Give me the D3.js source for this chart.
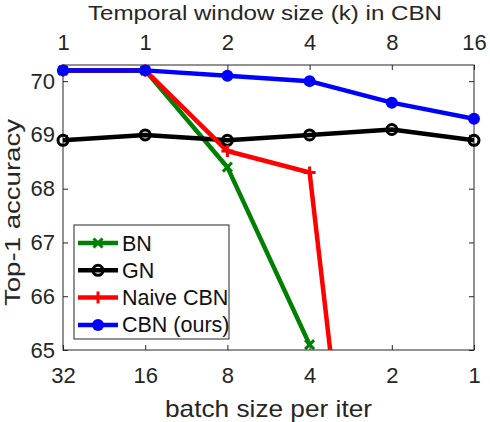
<!DOCTYPE html>
<html>
<head>
<meta charset="utf-8">
<script src="https://cdn.jsdelivr.net/npm/d3@7"></script>
<style>
  body { margin: 0; background: #fff; }
  svg { font-family: "Liberation Sans", Arial, Helvetica, sans-serif; }
</style>
</head>
<body>
<svg class="chart"></svg>
<script>
// data
const batchLabels = ["32", "16", "8", "4", "2", "1"];
const windowLabels = ["1", "1", "2", "4", "8", "16"];
const yTicks = [65, 66, 67, 68, 69, 70];

const bnValues = [70.2, 70.2, 68.4, 65.1];
const gnValues = [68.9, 69.0, 68.9, 69.0, 69.1, 68.9];
const naiveValues = [70.2, 70.2, 68.7, 68.3, 55.1];   // last point falls below the axis
const cbnValues = [70.2, 70.2, 70.1, 70.0, 69.6, 69.3];

const seriesNames = ["BN", "GN", "Naive CBN", "CBN (ours)"];
const seriesColors = ["#008000", "#000000", "#ff0000", "#0000ff"];
const seriesMarkers = ["x", "o", "+", "dot"];

const width = 490, height = 422;
const margin = {top: 65, right: 16, bottom: 72, left: 63};
const w = width - margin.left - margin.right;
const h = height - margin.top - margin.bottom;

const svg = d3.select(".chart")
  .attr("width", width)
  .attr("height", height);

const chart = svg.append("g")
  .attr("transform", "translate(" + margin.left + "," + margin.top + ")");

const x = d3.scaleLinear().domain([0, 5]).range([0, w]);
const y = d3.scaleLinear().domain([65, 70.3]).range([h, 0]);

// clip so the naive CBN drop is cut at the box
chart.append("clipPath").attr("id", "plotclip")
  .append("rect").attr("width", w).attr("height", h);

// axes, MATLAB style: ticks inside, on all four sides
const tickLen = 5;
const tickFont = 22;
const titleFont = 21;

const xBottom = chart.append("g").attr("transform", "translate(0," + h + ")")
  .call(d3.axisBottom(x).tickValues(d3.range(6)).tickSizeInner(-tickLen).tickSizeOuter(0)
    .tickPadding(17).tickFormat(i => batchLabels[i]));
const xTop = chart.append("g")
  .call(d3.axisTop(x).tickValues(d3.range(6)).tickSizeInner(-tickLen).tickSizeOuter(0)
    .tickPadding(15).tickFormat(i => windowLabels[i]));
const yLeft = chart.append("g")
  .call(d3.axisLeft(y).tickValues(yTicks).tickSizeInner(-tickLen).tickSizeOuter(0)
    .tickPadding(8).tickFormat(d3.format("d")));
const yRight = chart.append("g").attr("transform", "translate(" + w + ",0)")
  .call(d3.axisRight(y).tickValues(yTicks).tickSizeInner(-tickLen).tickSizeOuter(0)
    .tickFormat(""));

[xBottom, xTop, yLeft, yRight].forEach(g => {
  g.select(".domain").remove();
  g.selectAll("line").attr("stroke", "#262626").attr("stroke-width", 1);
  g.selectAll("text").attr("fill", "#262626").style("font-size", tickFont + "px")
    .style("font-family", "'Liberation Sans', Arial, sans-serif");
});

// the box
chart.append("rect")
  .attr("width", w).attr("height", h)
  .attr("fill", "none").attr("stroke", "#262626").attr("stroke-width", 1);

// axis titles (stretched a little to the widths seen in the reference)
svg.append("text")
  .attr("x", 268.5).attr("y", 416.5)
  .attr("text-anchor", "middle").attr("fill", "#262626")
  .attr("textLength", 207).attr("lengthAdjust", "spacingAndGlyphs")
  .style("font-size", "24px")
  .text("batch size per iter");
svg.append("text")
  .attr("x", 265).attr("y", 19.5)
  .attr("text-anchor", "middle").attr("fill", "#262626")
  .attr("textLength", 354).attr("lengthAdjust", "spacingAndGlyphs")
  .style("font-size", titleFont + "px")
  .text("Temporal window size (k) in CBN");
svg.append("text")
  .attr("transform", "translate(20,212.5) rotate(-90)")
  .attr("text-anchor", "middle").attr("fill", "#262626")
  .attr("textLength", 187).attr("lengthAdjust", "spacingAndGlyphs")
  .style("font-size", "22px")
  .text("Top-1 accuracy");

// marker drawing
function drawMarker(g, kind, color) {
  if (kind === "x") {
    g.append("path").attr("d", "M-4.5,-4.5L4.5,4.5M-4.5,4.5L4.5,-4.5")
      .attr("stroke", color).attr("stroke-width", 3).attr("fill", "none");
  } else if (kind === "o") {
    g.append("circle").attr("r", 5)
      .attr("stroke", color).attr("stroke-width", 3).attr("fill", "none");
  } else if (kind === "+") {
    g.append("path").attr("d", "M-6,0L6,0M0,-6L0,6")
      .attr("stroke", color).attr("stroke-width", 3).attr("fill", "none");
  } else {
    g.append("circle").attr("r", 6).attr("fill", color);
  }
}

const allSeries = [bnValues, gnValues, naiveValues, cbnValues];
const line = d3.line().x((d, i) => x(i)).y(d => y(d));

const plot = chart.append("g").attr("clip-path", "url(#plotclip)");
const markLayer = chart.append("g");

allSeries.forEach((vals, s) => {
  plot.append("path")
    .datum(vals)
    .attr("d", line)
    .attr("fill", "none")
    .attr("stroke", seriesColors[s])
    .attr("stroke-width", 4.5)
    .attr("stroke-linejoin", "round");
  vals.forEach((v, i) => {
    if (v < y.domain()[0]) return;
    const g = markLayer.append("g")
      .attr("transform", "translate(" + x(i) + "," + y(v) + ")");
    drawMarker(g, seriesMarkers[s], seriesColors[s]);
  });
});

// legend
const legend = svg.append("g").attr("transform", "translate(74,225)");
legend.append("rect")
  .attr("width", 155).attr("height", 114)
  .attr("fill", "#fff").attr("stroke", "#262626").attr("stroke-width", 1);
seriesNames.forEach((name, s) => {
  const ly = 18 + s * 27.3;
  legend.append("line")
    .attr("x1", 4).attr("x2", 44).attr("y1", ly).attr("y2", ly)
    .attr("stroke", seriesColors[s]).attr("stroke-width", 4.5);
  drawMarker(legend.append("g").attr("transform", "translate(24," + ly + ")"),
    seriesMarkers[s], seriesColors[s]);
  legend.append("text")
    .attr("x", 48).attr("y", ly + 7.5)
    .attr("fill", "#111")
    .style("font-size", "21.5px")
    .text(name);
});
</script>
</body>
</html>
